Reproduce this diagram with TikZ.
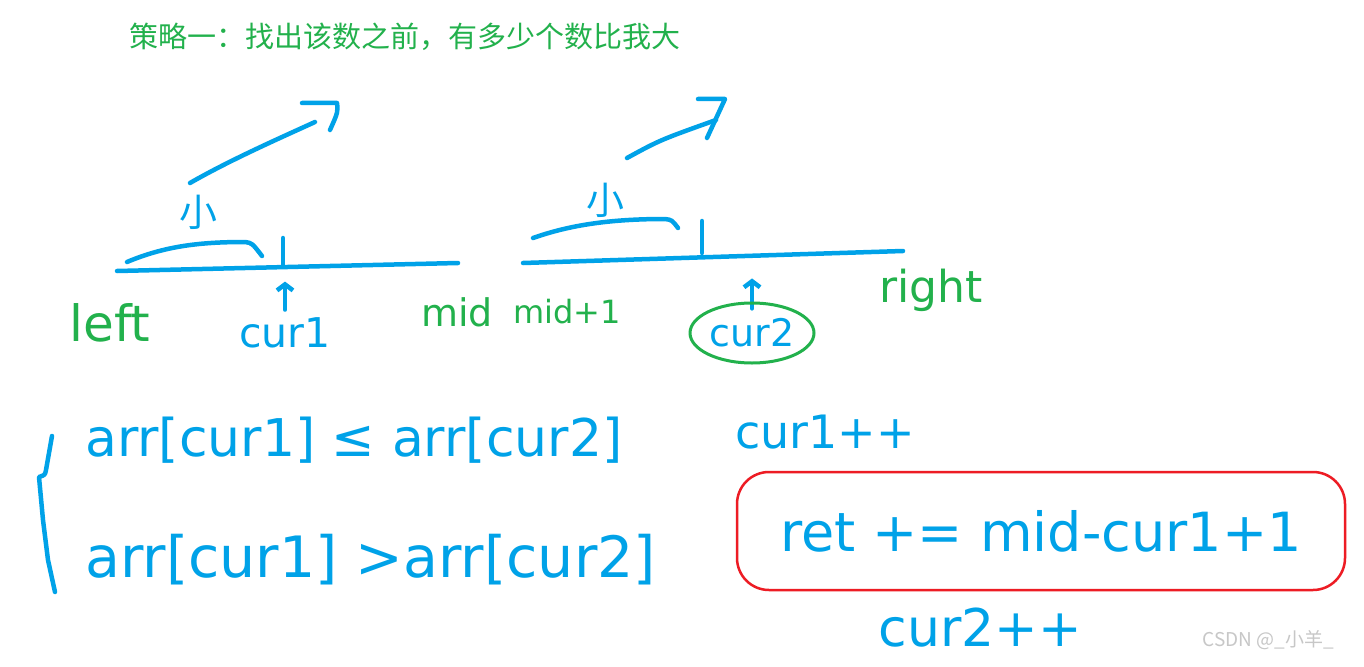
\documentclass[tikz,border=0pt]{standalone}
\usepackage{fontspec}
\setmainfont{DejaVu Sans}
\newfontfamily\cjk{Noto Sans CJK SC}
\usetikzlibrary{arrows.meta}
\definecolor{penblue}{RGB}{0,162,232}
\definecolor{pengreen}{RGB}{34,177,76}
\definecolor{penred}{RGB}{237,28,36}
\tikzset{
  pen/.style={penblue,line width=4.5pt,line cap=round,line join=round},
  hand/.style={inner sep=0pt,font=\fontsize{#1}{#1}\selectfont},
  hand/.default=38,
  bluetext/.style={hand=#1,text=penblue},
  bluetext/.default=38,
  greentext/.style={hand=#1,text=pengreen},
  greentext/.default=38,
  small/.style={text=penblue,inner sep=0pt,font=\cjk\fontsize{38}{40}\selectfont},
}

\begin{document}
\begin{tikzpicture}[x=1pt,y=-1pt,>={Straight Barb[length=6pt,width=16pt]}]
  \useasboundingbox (0,0) rectangle (1364,666);
  \fill[white] (0,0) rectangle (1364,666);
  % heading
  \node[text=pengreen,font=\cjk\fontsize{29}{34}\selectfont] (title) at (405,37)
    {策略一：找出该数之前，有多少个数比我大};
  % left half: left .. mid
  \draw[pen] (117,271) -- (458,263);
  \draw[pen] (283,238) -- (283,266);
  \draw[pen] (127,262) .. controls (165,246) and (200,242) .. (245,242) .. controls (252,243) .. (262,256);
  \node[small] (less1) at (198,212) {小};
  \draw[pen] (190,183) .. controls (230,160) and (280,138) .. (315,122);
  \draw[pen] (302,103) -- (337,103) .. controls (338,112) .. (330,130);
  \node[greentext=50] (left) at (110,323) {left};
  \node[bluetext=41] (cur1) at (285,333) {cur1};
  \node[greentext] (mid) at (457,312) {mid};
  \draw[pen,->,shorten <=8pt] (cur1.north) -- ++(0,-36);
  % right half: mid+1 .. right
  \draw[pen] (523,263) -- (903,251);
  \draw[pen] (702,221) -- (702,253);
  \draw[pen] (533,238) .. controls (570,225) and (610,219) .. (665,219) .. controls (672,220) .. (678,228);
  \node[small] (less2) at (605,200) {小};
  \draw[pen] (627,158) .. controls (660,140) .. (716,120);
  \draw[pen] (698,99) -- (725,99) -- (707,138);
  \node[greentext=32] (mid1) at (567,312) {mid+1};
  \node[bluetext] (cur2) at (752,333) {cur2};
  \node[greentext=44] (right) at (931,290) {right};
  \draw[pen,->,shorten <=10pt] (cur2.north) -- ++(0,-40);
  \draw[pengreen,line width=3pt] (cur2) ellipse [x radius=62, y radius=30];
  % the two cases
  \draw[pen] (52,436) -- (46,470) .. controls (45,475) .. (39,477) -- (43,520) -- (48,560) -- (55,592);
  \node[bluetext=52,anchor=west] (le) at (85,440) {arr[cur1] ≤ arr[cur2]};
  \node[bluetext=57,anchor=west] (gt) at (85,560) {arr[cur1] >arr[cur2]};
  \node[bluetext=46] (inc1) at (825,432) {cur1++};
  \node[bluetext=54,draw=penred,line width=2.5pt,rounded corners=32pt,
        minimum width=608pt,minimum height=118pt] (ret) at (1041,531)
    {ret += mid-cur1+1};
  \node[bluetext=52] (inc2) at (980,628) {cur2++};
  % watermark
  \node[text=black!22,inner sep=0pt,font=\cjk\fontsize{19}{22}\selectfont] (mark) at (1268,640) {CSDN @\_小羊\_};
\end{tikzpicture}
\end{document}
